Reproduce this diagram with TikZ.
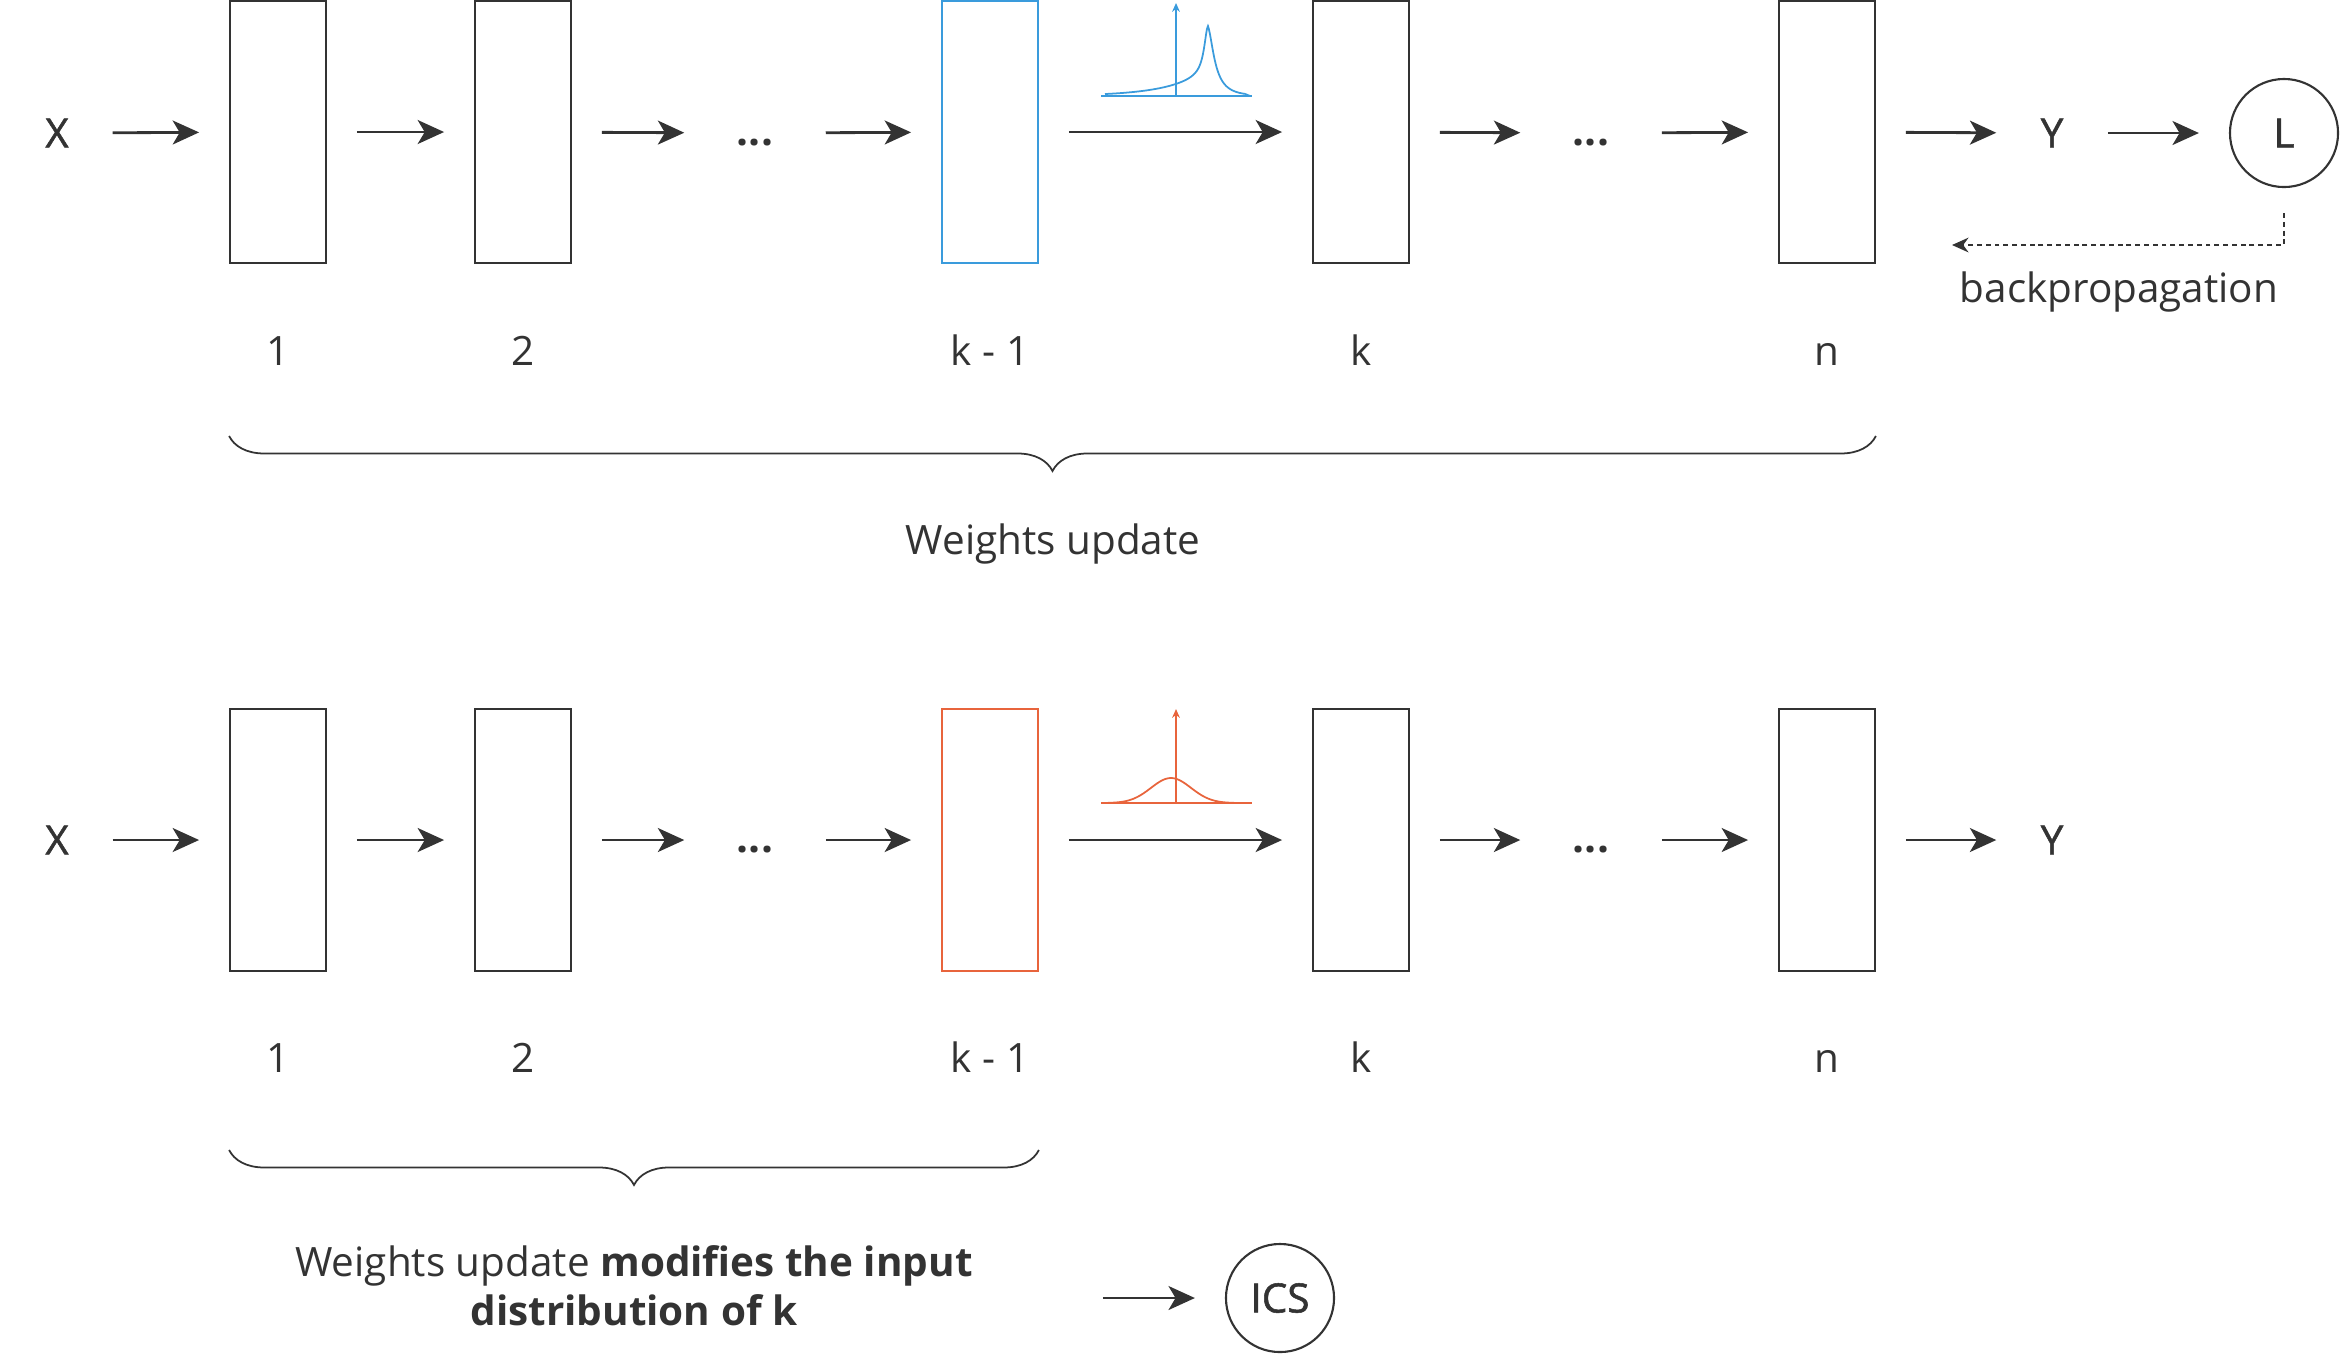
\documentclass[tikz,border=0pt]{standalone}
\usepackage{fontspec}
\setmainfont{Open Sans}
\newfontfamily\medfont{Open Sans}[FakeBold=1.3]
\usepackage{xcolor}
\usepackage{tikz}
\usetikzlibrary{positioning, arrows.meta}
\usetikzlibrary{calc, decorations.pathreplacing}

\definecolor{inkgray}{HTML}{333333}
\definecolor{shiftblue}{HTML}{3A9BDC}
\definecolor{shiftorange}{HTML}{E8643C}

\begin{document}
\begin{tikzpicture}[
        x=0.01cm, y=-0.01cm,
        font=\fontsize{11.5}{14}\selectfont, text=inkgray,
        layer/.style={rectangle, minimum width=0.96cm, minimum height=2.62cm, inner sep=0pt, draw=inkgray, line width=0.5pt},
        sym/.style={minimum width=0.5cm, inner sep=0pt, font=\fontsize{11.5}{14}\selectfont\medfont},
        dots/.style={minimum width=0.8cm, inner sep=0pt, text height=7pt, text depth=0pt, font=\fontsize{12}{14}\selectfont\bfseries},
        loss/.style={circle, minimum size=1.08cm, inner sep=0pt, draw=inkgray, line width=0.6pt, font=\fontsize{11.5}{14}\selectfont\medfont},
        idx/.style={inner sep=0pt, text height=8.2pt, text depth=0pt},
        arrow/.style={line width=0.8pt, draw=inkgray, -{Stealth[length=7.5pt, width=6.8pt, inset=2pt]}, shorten <=0.3cm, shorten >=0.3cm},
        backarrow/.style={line width=0.5pt, draw=inkgray, dash pattern=on 1.4pt off 1.1pt, -{Stealth[length=4.7pt, width=4.2pt]}},
        axis/.style={line width=0.5pt, -{Stealth[length=2.5pt, width=2.2pt]}},
        brace/.style={decorate, decoration={brace, mirror, amplitude=0.35cm}, line width=0.5pt, draw=inkgray}
    ]
        \useasboundingbox (0,0) rectangle (2345,1353);

        % ===== 上排网络 =====
        \node (xTop) [sym] at (57,133) {X};
        \node (layerOneTop) [layer] at (278,132) {};
        \node (layerTwoTop) [layer] at (523,132) {};
        \node (dotsLeftTop) [dots] at (755,133) {...};
        \node (layerKmTop) [layer, draw=shiftblue] at (990,132) {};
        \node (layerKTop) [layer] at (1361,132) {};
        \node (dotsRightTop) [dots] at (1591,133) {...};
        \node (layerNTop) [layer] at (1827,132) {};
        \node (yTop) [sym] at (2052,133) {Y};
        \node (lossL) [loss] at (2284,133) {L};

        % 层编号
        \node (idxOneTop) [idx] at ($(layerOneTop.south)+(0,87)$) {1};
        \node (idxTwoTop) [idx] at ($(layerTwoTop.south)+(0,87)$) {2};
        \node (idxKmTop) [idx] at ($(layerKmTop.south)+(0,87)$) {k - 1};
        \node (idxKTop) [idx] at ($(layerKTop.south)+(0,87)$) {k};
        \node (idxNTop) [idx] at ($(layerNTop.south)+(0,87)$) {n};

        % 前向箭头
        \draw [arrow] (xTop) -- (layerOneTop);
        \draw [arrow] (layerOneTop) -- (layerTwoTop);
        \draw [arrow] (layerTwoTop) -- (dotsLeftTop);
        \draw [arrow] (dotsLeftTop) -- (layerKmTop);
        \draw [arrow] (layerKmTop) -- (layerKTop);
        \draw [arrow] (layerKTop) -- (dotsRightTop);
        \draw [arrow] (dotsRightTop) -- (layerNTop);
        \draw [arrow] (layerNTop) -- (yTop);
        \draw [arrow] (yTop) -- (lossL);

        % 反向传播(虚线)
        \coordinate (bpEnd) at (1952,245);
        \draw [backarrow, shorten <=0.25cm] (lossL.south) |- (bpEnd);
        \node (bpLabel) at (2119,292) {backpropagation};

        % 偏斜分布
        \draw [shiftblue, line width=0.5pt] (1101,96) -- (1252,96);
        \draw [shiftblue, axis] (1176,96) -- (1176,3);
        \draw [shiftblue, line width=0.5pt] plot[domain=1105:1208, samples=100] (\x, {96-25*exp(-(1208-\x)/40)-45/(1+((1208-\x)/4.5)^2)})
            -- plot[domain=1208:1245, samples=40] (\x, {96-30*exp(-(\x-1208)/10)-40/(1+((\x-1208)/7)^2)}) -- (1250,96);

        % 大括号
        \draw [brace] ($(layerOneTop.south west)+(0,172)$) -- ($(layerNTop.south east)+(0,172)$);
        \node (updateTop) at (1053,544) {Weights update};

        % ===== 下排网络 =====
        \node (xBottom) [sym] at (57,840) {X};
        \node (layerOneBottom) [layer] at (278,840) {};
        \node (layerTwoBottom) [layer] at (523,840) {};
        \node (dotsLeftBottom) [dots] at (755,840) {...};
        \node (layerKmBottom) [layer, draw=shiftorange] at (990,840) {};
        \node (layerKBottom) [layer] at (1361,840) {};
        \node (dotsRightBottom) [dots] at (1591,840) {...};
        \node (layerNBottom) [layer] at (1827,840) {};
        \node (yBottom) [sym] at (2052,840) {Y};

        % 层编号
        \node (idxOneBottom) [idx] at ($(layerOneBottom.south)+(0,86)$) {1};
        \node (idxTwoBottom) [idx] at ($(layerTwoBottom.south)+(0,86)$) {2};
        \node (idxKmBottom) [idx] at ($(layerKmBottom.south)+(0,86)$) {k - 1};
        \node (idxKBottom) [idx] at ($(layerKBottom.south)+(0,86)$) {k};
        \node (idxNBottom) [idx] at ($(layerNBottom.south)+(0,86)$) {n};

        % 前向箭头
        \draw [arrow] (xBottom) -- (layerOneBottom);
        \draw [arrow] (layerOneBottom) -- (layerTwoBottom);
        \draw [arrow] (layerTwoBottom) -- (dotsLeftBottom);
        \draw [arrow] (dotsLeftBottom) -- (layerKmBottom);
        \draw [arrow] (layerKmBottom) -- (layerKBottom);
        \draw [arrow] (layerKBottom) -- (dotsRightBottom);
        \draw [arrow] (dotsRightBottom) -- (layerNBottom);
        \draw [arrow] (layerNBottom) -- (yBottom);

        % 正态分布
        \draw [shiftorange, line width=0.5pt] (1101,803) -- (1252,803);
        \draw [shiftorange, axis] (1176,803) -- (1176,709);
        \draw [shiftorange, line width=0.5pt] plot[domain=1108:1234, samples=80, smooth] (\x, {803-25*exp(-0.5*((\x-1171)/20)^2)});

        % 大括号与 ICS
        \draw [brace] ($(layerOneBottom.south west)+(0,178)$) -- ($(layerKmBottom.south east)+(0,178)$);
        \node (noteBottom) [align=center] at (634,1286) {Weights update \textbf{modifies the input}\\\textbf{distribution of k}};
        \node (ics) [loss] at (1280,1298) {ICS};
        \coordinate (icsFrom) at ($(ics.west)+(-122,0)$);
        \draw [arrow, shorten <=0pt] (icsFrom) -- (ics);

    \end{tikzpicture}
\end{document}
